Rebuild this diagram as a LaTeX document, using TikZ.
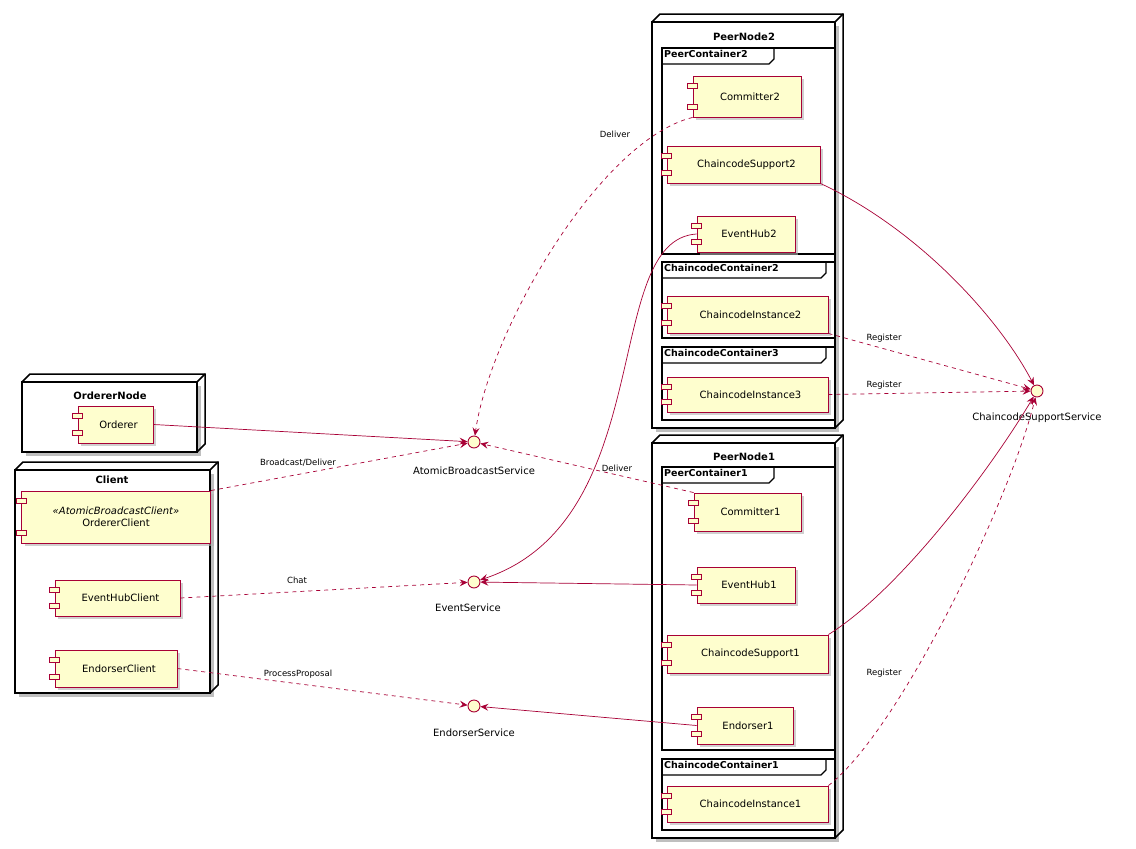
\documentclass[tikz,border=0pt]{standalone}
\usepackage{fontspec}
\setmainfont{DejaVu Sans}
\usetikzlibrary{arrows.meta,shadows}
\definecolor{cfill}{HTML}{FEFECE}
\definecolor{cline}{HTML}{A80036}
\tikzset{
  comp/.style={draw=cline,fill=cfill,line width=0.9pt,inner sep=0pt,font=\fontsize{10}{12}\selectfont,align=center,
    drop shadow={shadow xshift=3pt,shadow yshift=-3pt,fill=black!30,opacity=0.6}},
  tabst/.style={draw=cline,fill=cfill,line width=0.9pt},
  box/.style={line width=1.5pt,draw=black},
  ttl/.style={font=\bfseries\fontsize{10}{12}\selectfont},
  ftl/.style={font=\bfseries\fontsize{9.5}{11}\selectfont,inner sep=2pt,anchor=north west},
  iface/.style={circle,draw=cline,fill=cfill,line width=0.9pt,minimum size=12pt,inner sep=0pt},
  ilab/.style={font=\fontsize{10}{12}\selectfont},
  elab/.style={font=\fontsize{8.5}{10}\selectfont},
  con/.style={draw=cline,line width=0.7pt,-{Stealth[length=8pt,width=7pt,inset=3pt]}},
  dcon/.style={con,dash pattern=on 4pt off 4pt},
}
\newcommand\comp[6]{%
  \node[comp,minimum width=#4pt,minimum height=#5pt] (#1) at (#2,#3) {#6};
  \draw[tabst] ([xshift=-5pt,yshift=-8pt]#1.north west) rectangle ([xshift=5pt,yshift=-13pt]#1.north west);
  \draw[tabst] ([xshift=-5pt,yshift=8pt]#1.south west) rectangle ([xshift=5pt,yshift=13pt]#1.south west);
}
\newcommand\nodebox[5]{% x1 y1 x2 y2 title
  \fill[black!25] (#1+4,#2+4) rectangle (#3+4,#4+4);
  \draw[box,fill=white] (#1,#2) rectangle (#3,#4);
  \draw[box] (#1,#2) -- (#1+8,#2-8) -- (#3+8,#2-8) -- (#3+8,#4-8) -- (#3,#4);
  \draw[box] (#3,#2) -- (#3+8,#2-8);
}
\newcommand\frm[6]{% x1 y1 x2 y2 title tabwidth
  \draw[line width=1.3pt] (#1,#2) rectangle (#3,#4);
  \draw[line width=1.3pt] (#1,#2+16) -- (#1+#6-5,#2+16) -- (#1+#6,#2+11) -- (#1+#6,#2);
  \node[ftl] at (#1,#2) {#5};
}
\begin{document}
\begin{tikzpicture}[x=1pt,y=-1pt]
\useasboundingbox[fill=white] (0,0) rectangle (1136,849);
% nodes
\nodebox{652}{22}{835}{428}{}
\node[ttl] at (744,37) {PeerNode2};
\frm{662}{48}{835}{254}{PeerContainer2}{112}
\frm{662}{262}{835}{338}{ChaincodeContainer2}{164}
\frm{662}{347}{835}{420}{ChaincodeContainer3}{164}
\nodebox{652}{443}{835}{838}{}
\node[ttl] at (744,457) {PeerNode1};
\frm{662}{467}{835}{750}{PeerContainer1}{112}
\frm{662}{759}{835}{830}{ChaincodeContainer1}{164}
\nodebox{22}{382}{197}{452}{}
\node[ttl] at (110,396) {OrdererNode};
\nodebox{15}{470}{210}{693}{}
\node[ttl] at (112,480) {Client};
% components
\comp{c2}{747}{96.5}{108}{41}{\hspace*{6pt}Committer2}
\comp{cs2}{743.5}{164.5}{153}{37}{\hspace*{6pt}ChaincodeSupport2}
\comp{eh2}{746}{234}{98}{36}{\hspace*{6pt}EventHub2}
\comp{ci2}{747.5}{314.5}{161}{37}{\hspace*{6pt}ChaincodeInstance2}
\comp{ci3}{747.5}{394.5}{161}{35}{\hspace*{6pt}ChaincodeInstance3}
\comp{c1}{747.5}{512}{107}{38}{\hspace*{6pt}Committer1}
\comp{eh1}{746}{585}{98}{36}{\hspace*{6pt}EventHub1}
\comp{cs1}{747.5}{654}{161}{38}{\hspace*{6pt}ChaincodeSupport1}
\comp{en1}{745}{725.5}{96}{37}{\hspace*{6pt}Endorser1}
\comp{ci1}{747.5}{804}{161}{36}{\hspace*{6pt}ChaincodeInstance1}
\comp{ord}{115.5}{424.5}{75}{37}{\hspace*{6pt}Orderer}
\comp{oc}{116}{517}{189}{52}{\textit{«AtomicBroadcastClient»}\\OrdererClient}
\comp{ehc}{117.5}{598}{125}{36}{\hspace*{6pt}EventHubClient}
\comp{enc}{116}{668.5}{122}{37}{\hspace*{6pt}EndorserClient}
% interfaces
\node[iface] (abs) at (474,442) {};
\node[ilab] at (474,471) {AtomicBroadcastService};
\node[iface] (es) at (474,582) {};
\node[ilab] at (468,608) {EventService};
\node[iface] (ens) at (474,706) {};
\node[ilab] at (474,733) {EndorserService};
\node[iface] (css) at (1037,391) {};
\node[ilab] at (1037,418) {ChaincodeSupportService};
% connectors
\draw[dcon] (c2.south west) .. controls (600,140) and (490,330) .. (abs);
\node[elab] at (615,134) {Deliver};
\draw[con] (cs2.south east) .. controls (920,230) and (1000,320) .. (css);
\draw[con] (eh2.west) .. controls (600,240) and (660,520) .. (es);
\draw[dcon] (ci2.south east) -- (css);
\node[elab] at (884,338) {Register};
\draw[dcon] (ci3.east) -- (css);
\node[elab] at (884,385) {Register};
\draw[con] (ord.east) -- (abs);
\draw[dcon] (oc.north east) -- (abs);
\node[elab] at (298,463) {Broadcast/Deliver};
\draw[dcon] (c1.north west) -- (abs);
\node[elab] at (617,468) {Deliver};
\draw[dcon] (ehc.east) -- (es);
\node[elab] at (297,580) {Chat};
\draw[con] (eh1.west) -- (es);
\draw[con] (cs1.north east) .. controls (900,590) and (990,470) .. (css);
\draw[dcon] (enc.east) -- (ens);
\node[elab] at (298,674) {ProcessProposal};
\draw[con] (en1.west) -- (ens);
\draw[dcon] (ci1.north east) .. controls (900,730) and (1010,500) .. (css);
\node[elab] at (884,673) {Register};
\end{tikzpicture}
\end{document}
